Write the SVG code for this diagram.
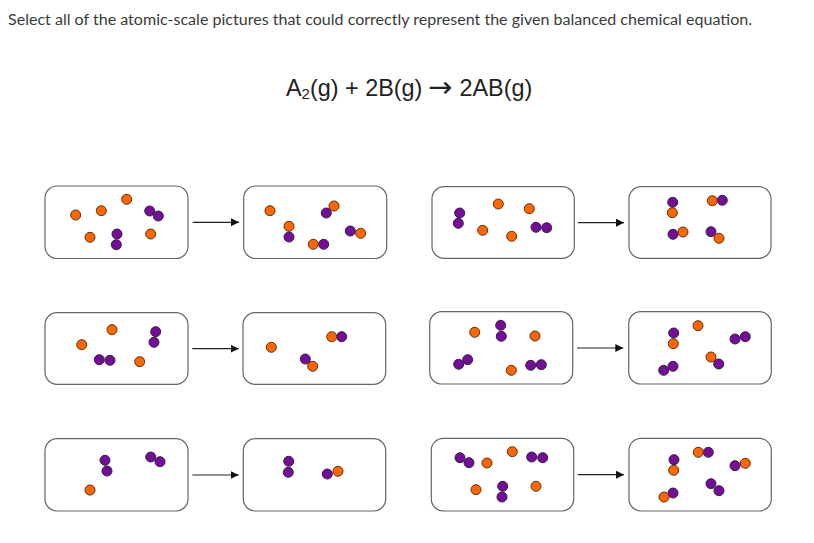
<svg xmlns="http://www.w3.org/2000/svg" width="814" height="543" viewBox="0 0 814 543">
<style>
.box{fill:#fff;stroke:#666;stroke-width:1.2}
.o{fill:#ff6600;stroke:#5a3010;stroke-width:1}
.p{fill:#720f96;stroke:#3a1a4a;stroke-width:1}
.arrow{stroke:#222;stroke-width:1.2;fill:none;marker-end:url(#ah)}
.q{font-family:"Lato","Open Sans",sans-serif;font-size:15.5px;fill:#3a3a3a}
.eq{font-family:"Liberation Sans",Arial,sans-serif;font-size:23.4px;fill:#222}
</style>
<defs>
<marker id="ah" markerUnits="userSpaceOnUse" markerWidth="9" markerHeight="9" refX="8" refY="4" orient="auto"><path d="M0 0L8 4L0 8Z" fill="#111"/></marker>
</defs>
<rect width="814" height="543" fill="#fff"/>
<text class="q" x="8" y="25" textLength="744" lengthAdjust="spacingAndGlyphs">Select all of the atomic-scale pictures that could correctly represent the given balanced chemical equation.</text>
<text class="eq" x="286" y="96">A<tspan font-size="15" dy="3">2</tspan><tspan dy="-3">(g) + 2B(g)</tspan></text>
<text class="eq" x="428" y="97" style="font-family:'DejaVu Sans',sans-serif;font-size:29px">→</text>
<text class="eq" x="459.5" y="96">2AB(g)</text>
<g id="connectors">
<path class="arrow" d="M192.7 222.3H239"/>
<path class="arrow" d="M578 222.7H624"/>
<path class="arrow" d="M192.3 348.7H238.7"/>
<path class="arrow" d="M577 348H623.3"/>
<path class="arrow" d="M192.3 475H238.7"/>
<path class="arrow" d="M577.7 474.7H624"/>
</g>
<g id="r1a"><rect class="box" x="45" y="186" width="143" height="72.5" rx="12"/>
<circle class="o" cx="75.7" cy="215" r="5"/><circle class="o" cx="101.3" cy="210.7" r="5"/><circle class="o" cx="126.7" cy="199.3" r="5"/><circle class="o" cx="90" cy="237.3" r="5"/><circle class="o" cx="150.7" cy="234" r="5"/>
<circle class="p" cx="149.7" cy="211" r="5"/><circle class="p" cx="158.3" cy="216" r="5"/><circle class="p" cx="117" cy="234" r="5"/><circle class="p" cx="116.3" cy="244.7" r="5"/></g>
<g id="r1b"><rect class="box" x="243.7" y="186" width="143" height="72.5" rx="12"/>
<circle class="o" cx="270" cy="210.7" r="5"/><circle class="o" cx="289" cy="226.3" r="5"/><circle class="p" cx="289" cy="237" r="5"/><circle class="o" cx="334" cy="206" r="5"/><circle class="p" cx="326.3" cy="213" r="5"/><circle class="p" cx="323.7" cy="244.3" r="5"/><circle class="o" cx="313.3" cy="244.3" r="5"/><circle class="p" cx="350.3" cy="231" r="5"/><circle class="o" cx="360.7" cy="233.3" r="5"/></g>
<g id="r1c"><rect class="box" x="432" y="186.7" width="142.3" height="71.6" rx="12"/>
<circle class="p" cx="459.7" cy="213" r="5"/><circle class="p" cx="458.3" cy="223.3" r="5"/><circle class="o" cx="498.3" cy="204" r="5"/><circle class="o" cx="529.3" cy="208.7" r="5"/><circle class="o" cx="482.7" cy="230.3" r="5"/><circle class="o" cx="511.7" cy="236.3" r="5"/><circle class="p" cx="536" cy="227.3" r="5"/><circle class="p" cx="546.7" cy="227.7" r="5"/></g>
<g id="r1d"><rect class="box" x="629" y="186.7" width="142" height="71.6" rx="12"/>
<circle class="p" cx="672.7" cy="202.3" r="5"/><circle class="o" cx="672.3" cy="212.7" r="5"/><circle class="p" cx="722.3" cy="200.3" r="5"/><circle class="o" cx="712.3" cy="200.7" r="5"/><circle class="p" cx="673" cy="234.3" r="5"/><circle class="o" cx="683" cy="232" r="5"/><circle class="p" cx="711" cy="231.7" r="5"/><circle class="o" cx="719" cy="238.3" r="5"/></g>
<g id="r2a"><rect class="box" x="45" y="312.7" width="143" height="71.6" rx="12"/>
<circle class="o" cx="112" cy="329.7" r="5"/><circle class="o" cx="81.7" cy="344.7" r="5"/><circle class="p" cx="155.7" cy="331.7" r="5"/><circle class="p" cx="154" cy="342.3" r="5"/><circle class="p" cx="99.3" cy="359.7" r="5"/><circle class="p" cx="110" cy="360.3" r="5"/><circle class="o" cx="139.7" cy="361.7" r="5"/></g>
<g id="r2b"><rect class="box" x="243" y="312.7" width="142.7" height="71.6" rx="12"/>
<circle class="o" cx="271.3" cy="347.3" r="5"/><circle class="p" cx="341.7" cy="336.7" r="5"/><circle class="o" cx="331.7" cy="336.7" r="5"/><circle class="p" cx="305.3" cy="359" r="5"/><circle class="o" cx="312.7" cy="366.3" r="5"/></g>
<g id="r2c"><rect class="box" x="429.7" y="311.7" width="143" height="72.3" rx="12"/>
<circle class="o" cx="474.7" cy="332.3" r="5"/><circle class="p" cx="500.7" cy="325.3" r="5"/><circle class="p" cx="501.3" cy="336.3" r="5"/><circle class="o" cx="535" cy="336" r="5"/><circle class="p" cx="467.7" cy="359.7" r="5"/><circle class="p" cx="458.7" cy="364.3" r="5"/><circle class="o" cx="511.3" cy="370.3" r="5"/><circle class="p" cx="530.7" cy="365.3" r="5"/><circle class="p" cx="541.3" cy="364.7" r="5"/></g>
<g id="r2d"><rect class="box" x="628.7" y="311.7" width="142.6" height="72.3" rx="12"/>
<circle class="o" cx="698" cy="325.7" r="5"/><circle class="p" cx="673.7" cy="333" r="5"/><circle class="o" cx="673.3" cy="343.7" r="5"/><circle class="p" cx="735" cy="339" r="5"/><circle class="p" cx="745.3" cy="336.7" r="5"/><circle class="p" cx="718.7" cy="364" r="5"/><circle class="o" cx="711" cy="357" r="5"/><circle class="p" cx="663.7" cy="370.3" r="5"/><circle class="p" cx="673" cy="366.3" r="5"/></g>
<g id="r3a"><rect class="box" x="45" y="438.7" width="143" height="72.3" rx="12"/>
<circle class="p" cx="105" cy="460.3" r="5"/><circle class="p" cx="107" cy="471" r="5"/><circle class="o" cx="90" cy="490" r="5"/><circle class="p" cx="150.7" cy="457" r="5"/><circle class="p" cx="160" cy="461.7" r="5"/></g>
<g id="r3b"><rect class="box" x="243.3" y="438.7" width="142.4" height="72.3" rx="12"/>
<circle class="p" cx="288.7" cy="461.3" r="5"/><circle class="p" cx="288.3" cy="472.3" r="5"/><circle class="p" cx="327.3" cy="474" r="5"/><circle class="o" cx="338" cy="471.3" r="5"/></g>
<g id="r3c"><rect class="box" x="431.3" y="438.3" width="142.4" height="72.7" rx="12"/>
<circle class="p" cx="460" cy="457.7" r="5"/><circle class="p" cx="469" cy="462.7" r="5"/><circle class="o" cx="487" cy="463" r="5"/><circle class="o" cx="512.3" cy="451.7" r="5"/><circle class="p" cx="531.7" cy="457" r="5"/><circle class="p" cx="542.7" cy="457.7" r="5"/><circle class="o" cx="476" cy="489.7" r="5"/><circle class="p" cx="502.7" cy="486.3" r="5"/><circle class="p" cx="502" cy="497" r="5"/><circle class="o" cx="536" cy="486.3" r="5"/></g>
<g id="r3d"><rect class="box" x="629" y="438.3" width="142.3" height="72.7" rx="12"/>
<circle class="p" cx="708.3" cy="452.3" r="5"/><circle class="o" cx="698.3" cy="452.3" r="5"/><circle class="p" cx="674" cy="459.7" r="5"/><circle class="o" cx="673.7" cy="470.3" r="5"/><circle class="p" cx="735" cy="465.7" r="5"/><circle class="o" cx="745.3" cy="463.3" r="5"/><circle class="p" cx="711" cy="483.7" r="5"/><circle class="p" cx="719" cy="490.7" r="5"/><circle class="p" cx="673" cy="493" r="5"/><circle class="o" cx="664" cy="497" r="5"/></g>
</svg>
